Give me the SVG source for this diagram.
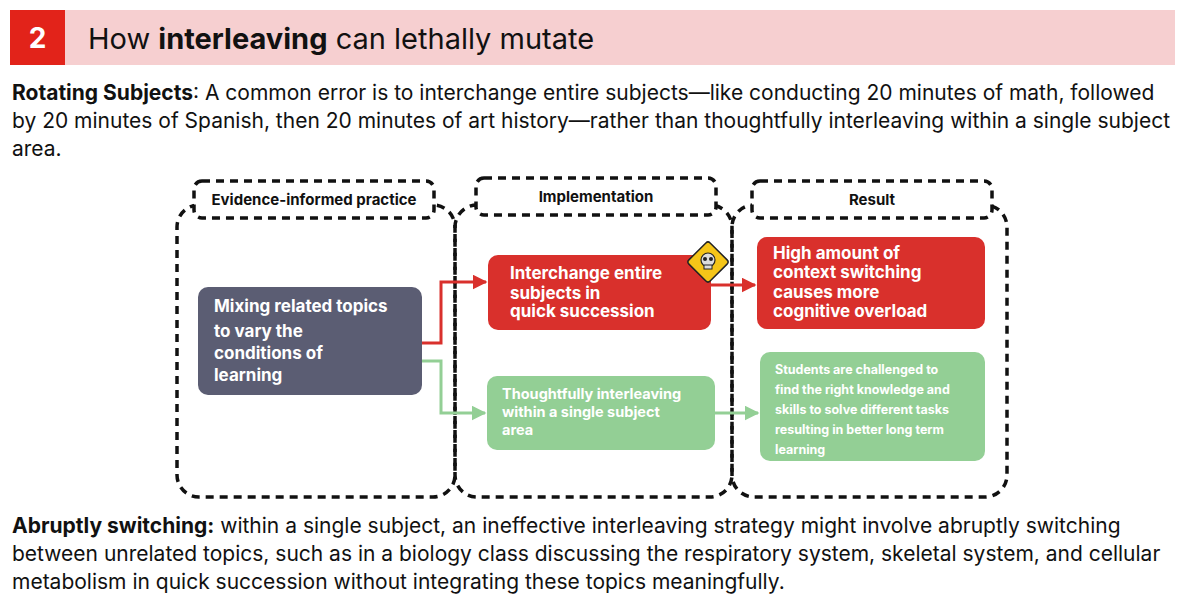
<svg xmlns="http://www.w3.org/2000/svg" width="1200" height="600" viewBox="0 0 1200 600">
<style>
text{font-family:Inter,"Liberation Sans",sans-serif}
.p{font-size:21px;fill:#111}
.frame{fill:none;stroke:#111;stroke-width:3.5;stroke-dasharray:8 6}
.lb{fill:#fff;stroke:#111;stroke-width:3.5;stroke-dasharray:8 6}
.lab{font-size:15px;font-weight:700;fill:#111;text-anchor:middle}
.w{fill:#fff;font-weight:700}
</style>
<defs>
<marker id="ar" viewBox="0 0 10 10" refX="9" refY="5" markerWidth="5" markerHeight="5" orient="auto"><path d="M0 0L10 5L0 10z" fill="#d9302c"/></marker>
<marker id="ag" viewBox="0 0 10 10" refX="9" refY="5" markerWidth="5" markerHeight="5" orient="auto"><path d="M0 0L10 5L0 10z" fill="#93cf95"/></marker>
</defs>
<rect width="1200" height="600" fill="#fff"/>
<rect x="10" y="10" width="1165" height="55" fill="#f6cfd0"/>
<rect x="10" y="10" width="55" height="55" fill="#e2231a"/>
<text x="37.5" y="48" font-size="28" font-weight="700" fill="#fff" text-anchor="middle">2</text>
<text x="88" y="49" font-size="29" fill="#111">How <tspan font-weight="700">interleaving</tspan> can lethally mutate</text>
<text class="p" x="12" y="100"><tspan font-weight="700">Rotating Subjects</tspan>: A common error is to interchange entire subjects—like conducting 20 minutes of math, followed</text>
<text class="p" x="12" y="128">by 20 minutes of Spanish, then 20 minutes of art history—rather than thoughtfully interleaving within a single subject</text>
<text class="p" x="12" y="156">area.</text>
<text class="p" x="12" y="533"><tspan font-weight="700">Abruptly switching:</tspan> within a single subject, an ineffective interleaving strategy might involve abruptly switching</text>
<text class="p" x="12" y="561">between unrelated topics, such as in a biology class discussing the respiratory system, skeletal system, and cellular</text>
<text class="p" x="12" y="589">metabolism in quick succession without integrating these topics meaningfully.</text>
<rect class="frame" x="177" y="205" width="278" height="292" rx="22"/>
<rect class="frame" x="455" y="205" width="277" height="292" rx="22"/>
<rect class="frame" x="732" y="205" width="275" height="292" rx="22"/>
<g id="panel1"><rect class="lb" x="194" y="181" width="240" height="37" rx="8"/><text class="lab" x="314" y="205">Evidence-informed practice</text></g>
<g id="panel2"><rect class="lb" x="476" y="178" width="240" height="37" rx="8"/><text class="lab" x="596" y="202">Implementation</text></g>
<g id="panel3"><rect class="lb" x="752" y="181" width="240" height="37" rx="8"/><text class="lab" x="872" y="205">Result</text></g>
<g id="connectors" fill="none" stroke-width="3">
<path d="M422 343H441V282H486" stroke="#d9302c" marker-end="url(#ar)"/>
<path d="M422 361H441V413H485" stroke="#93cf95" marker-end="url(#ag)"/>
<path d="M711 285H755" stroke="#d9302c" marker-end="url(#ar)"/>
<path d="M715 413H758" stroke="#93cf95" marker-end="url(#ag)"/>
</g>
<g id="n1"><rect x="198" y="287" width="224" height="108" rx="10" fill="#5b5d73"/><text class="w" font-size="17"><tspan x="214" y="312">Mixing related topics</tspan><tspan x="214" y="337">to vary the</tspan><tspan x="214" y="359">conditions of</tspan><tspan x="214" y="381">learning</tspan></text></g>
<g id="n2"><rect x="488" y="255" width="223" height="75" rx="10" fill="#d9302c"/><text class="w" font-size="17"><tspan x="510" y="279">Interchange entire</tspan><tspan x="510" y="299">subjects in</tspan><tspan x="510" y="317">quick succession</tspan></text></g>
<g id="warn"><rect x="693" y="247" width="30" height="30" rx="3" transform="rotate(45 708 262)" fill="#f5c518" stroke="#222" stroke-width="1.5"/><circle cx="708" cy="260" r="7" fill="#ddd" stroke="#222" stroke-width="1.2"/><circle cx="705" cy="259" r="2" fill="#222"/><circle cx="711" cy="259" r="2" fill="#222"/><rect x="704" y="265" width="8" height="4" fill="#ddd" stroke="#222" stroke-width="1"/></g>
<g id="n3"><rect x="487" y="376" width="228" height="74" rx="10" fill="#93cf95"/><text class="w" font-size="14.5"><tspan x="502" y="399">Thoughtfully interleaving</tspan><tspan x="502" y="417">within a single subject</tspan><tspan x="502" y="435">area</tspan></text></g>
<g id="n4"><rect x="757" y="237" width="228" height="92" rx="10" fill="#d9302c"/><text class="w" font-size="17"><tspan x="773" y="259">High amount of</tspan><tspan x="773" y="278">context switching</tspan><tspan x="773" y="298">causes more</tspan><tspan x="773" y="317">cognitive overload</tspan></text></g>
<g id="n5"><rect x="760" y="352" width="225" height="109" rx="10" fill="#93cf95"/><text class="w" font-size="12.5"><tspan x="775" y="374">Students are challenged to</tspan><tspan x="775" y="394">find the right knowledge and</tspan><tspan x="775" y="414">skills to solve different tasks</tspan><tspan x="775" y="434">resulting in better long term</tspan><tspan x="775" y="454">learning</tspan></text></g>
</svg>
